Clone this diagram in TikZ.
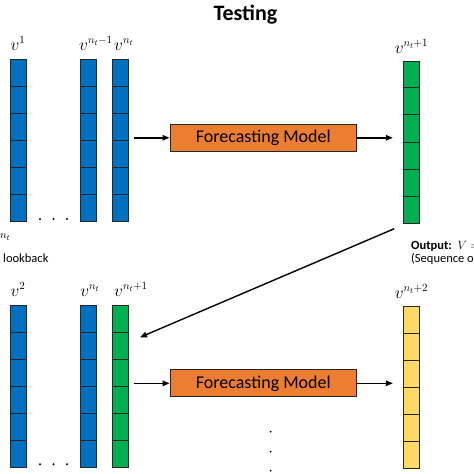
\documentclass[tikz,border=0pt]{standalone}
\usepackage{fontspec}
\setmainfont{Carlito}
\usetikzlibrary{arrows.meta,calc}
\definecolor{colblue}{RGB}{0,112,192}
\definecolor{colgreen}{RGB}{0,176,80}
\definecolor{colyellow}{RGB}{255,217,102}
\definecolor{modelorange}{RGB}{237,125,49}
\begin{document}
\begin{tikzpicture}
  [x=1pt,y=-1pt,every node/.style={inner sep=0pt},
   vcol/.style={draw=black!85,line width=0.6pt,minimum width=16pt,minimum height=162pt},
   model/.style={draw=black!85,line width=0.8pt,fill=modelorange,minimum width=186.7pt,
     minimum height=27pt,font=\fontsize{18}{20}\selectfont},
   vlab/.style={anchor=base,font=\fontsize{16}{18}\selectfont},
   side/.style={anchor=base west,font=\fontsize{12.5}{14}\selectfont},
   flow/.style={-{Triangle[length=7pt,width=5.5pt]},line width=1.4pt}]
  \useasboundingbox (0,0) rectangle (474,474);

  \node[font=\bfseries\fontsize{22}{24}\selectfont] (title) at (245.5,15) {Testing};

  % first step
  \node[vcol,fill=colblue] (a1) at (17.8,140.5) {};
  \node[vcol,fill=colblue] (a2) at (87.8,140.5) {};
  \node[vcol,fill=colblue] (a3) at (120.7,140.5) {};
  \node[vcol,fill=colgreen] (a4) at (411.7,141.8) {};
  \node[model] (m1) at (263.3,137.8) {Forecasting Model};

  \node[vlab] (la1) at (18,50) {$v^1$};
  \node[vlab,anchor=base west] (la2) at (79,50) {$v^{n_t-1}$};
  \node[vlab,anchor=base west] (la3) at (114,50) {$v^{n_t}$};
  \node[vlab] (la4) at (411.5,53) {$v^{n_t+1}$};

  % second step
  \node[vcol,fill=colblue] (b1) at (17.8,386.2) {};
  \node[vcol,fill=colblue] (b2) at (87.8,386.2) {};
  \node[vcol,fill=colgreen] (b3) at (120.7,386.2) {};
  \node[vcol,fill=colyellow] (b4) at (411.7,387.5) {};
  \node[model] (m2) at (263.3,383.3) {Forecasting Model};

  \node[vlab] (lb1) at (18,296) {$v^2$};
  \node[vlab] (lb2) at (90,296) {$v^{n_t}$};
  \node[vlab,anchor=base west] (lb3) at (114,296) {$v^{n_t+1}$};
  \node[vlab] (lb4) at (411.5,298) {$v^{n_t+2}$};

  \foreach \c in {a1,a2,a3,a4,b1,b2,b3,b4}
    \foreach \k in {1,...,5}
      \draw[black!85,line width=0.6pt] ($(\c.north west)!\k/6!(\c.south west)$)
        -- ($(\c.north east)!\k/6!(\c.south east)$);

  % side notes
  \node[side,anchor=base east,font=\fontsize{16}{18}\selectfont] (inp) at (11,245) {$v^{n_t}$};
  \node[side] (look) at (3,262) {lookback};
  \node[side] (out) at (411,249) {\textbf{Output:}\ \ $V = v^{n_t+1}$};
  \node[side] (seq) at (411,262) {(Sequence of forecasts)};

  % arrows
  \draw[flow,shorten <=5.3pt] (m1.west -| a3.east) -- (m1.west);
  \draw[flow,shorten >=10.6pt] (m1.east) -- (m1.east -| a4.west);
  \draw[flow,shorten <=5.3pt] (m2.west -| b3.east) -- (m2.west);
  \draw[flow,shorten >=10.6pt] (m2.east) -- (m2.east -| b4.west);
  \coordinate (d0) at (394.3,228.7);
  \coordinate (d1) at (140,337.3);
  \draw[flow] (d0) -- (d1);

  % dots
  \foreach \x in {40,53.5,67}
    {\fill (\x,219) circle (1.1pt);
     \fill (\x,464.3) circle (1.1pt);}
  \foreach \y in {431.7,451.7,470.7}
    \fill (270.7,\y) circle (1pt);
\end{tikzpicture}
\end{document}
